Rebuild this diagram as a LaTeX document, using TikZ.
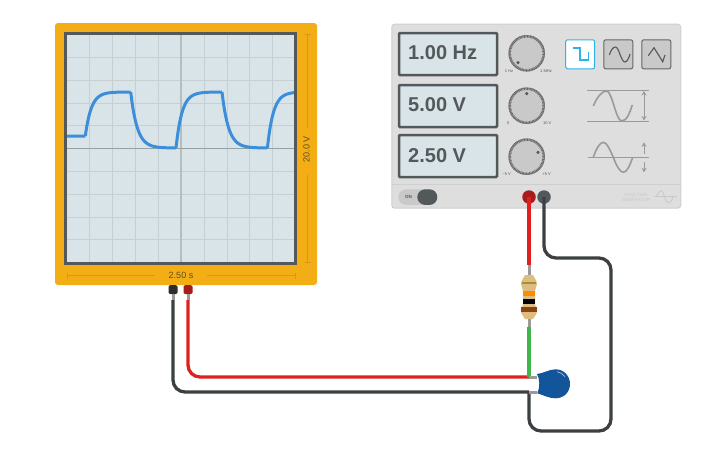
\documentclass[tikz,border=0pt]{standalone}
\usepackage{fontspec}
\setmainfont{Liberation Sans}
\usetikzlibrary{arrows.meta}
\definecolor{scopeorange}{HTML}{F2AE14}
\definecolor{dimorange}{HTML}{D29A18}
\definecolor{dimtext}{HTML}{5E4F22}
\definecolor{framegray}{HTML}{53585A}
\definecolor{lcdblue}{HTML}{D9E4E9}
\definecolor{gridgray}{HTML}{C6D0D3}
\definecolor{gridmid}{HTML}{B4BEBE}
\definecolor{gridaxis}{HTML}{96A1A1}
\definecolor{traceblue}{HTML}{3C8EDB}
\definecolor{panelgray}{HTML}{DEDEDE}
\definecolor{paneledge}{HTML}{CFCFCF}
\definecolor{knobgray}{HTML}{C9C9C9}
\definecolor{knobring}{HTML}{8E8E8E}
\definecolor{knobedge}{HTML}{666666}
\definecolor{iconblue}{HTML}{2FB2EA}
\definecolor{icongray}{HTML}{9A9A9A}
\definecolor{faintgray}{HTML}{C8C8C8}
\definecolor{wirered}{HTML}{E0201F}
\definecolor{wireblack}{HTML}{3C4042}
\definecolor{wiregreen}{HTML}{3FB54A}
\definecolor{leadgray}{HTML}{9A9A9A}
\definecolor{restan}{HTML}{DFBD7F}
\definecolor{capblue}{HTML}{13559B}
\definecolor{probedark}{HTML}{2E2E2E}
\definecolor{probered}{HTML}{A81C1C}
\definecolor{bandolive}{HTML}{A09040}
\definecolor{bandorange}{HTML}{FF8C00}
\definecolor{bandbrown}{HTML}{8B4513}
\tikzset{
    lcd/.style={draw=framegray, line width=2.5pt, rectangle, rounded corners=1pt, minimum width=98pt, minimum height=42pt, fill=lcdblue, inner sep=0pt},
    lcdtext/.style={font=\bfseries\fontsize{20}{20}\selectfont, text=framegray, anchor=west, inner sep=0pt},
    knob/.style={draw=knobedge, line width=2.5pt, circle, dash pattern=on 0.8pt off 0.7pt, preaction={draw=knobring, solid}, minimum size=34pt, fill=knobgray, inner sep=0pt},
    knobdot/.style={circle, fill=framegray, minimum size=3.5pt, inner sep=0pt},
    knobtext/.style={font=\fontsize{4}{4}\selectfont, text=framegray, inner sep=0pt},
    wavebtn/.style={draw=knobedge, line width=1pt, rectangle, rounded corners=2pt, minimum width=29pt, minimum height=29pt, fill=knobgray, inner sep=0pt},
    dimtxt/.style={font=\fontsize{9}{9}\selectfont, text=dimtext, inner sep=0pt},
    dimline/.style={draw=dimorange, line width=0.7pt},
    terminal/.style={circle, minimum size=13.5pt, inner sep=0pt},
    probe/.style={rectangle, rounded corners=1.5pt, minimum width=9pt, minimum height=9pt, inner sep=0pt},
    lead/.style={draw=leadgray, line width=3pt},
    wire/.style={line width=3.3pt, rounded corners=12pt},
    resband/.style={rectangle, inner sep=0pt, minimum height=4.5pt},
    gridline/.style={draw=gridgray, line width=1pt},
    icon/.style={line width=1.1pt, draw=framegray},
    sketch/.style={line width=1.6pt, draw=icongray},
    scaleline/.style={line width=1pt, draw=icongray},
    scalearrow/.style={line width=1pt, draw=icongray, -{Stealth[length=4.5pt,width=5pt]}}
}
\begin{document}
\begin{tikzpicture}[x=1pt, y=-1pt]
    \useasboundingbox (0,0) rectangle (725,453);

    \node[rectangle, rounded corners=3pt, minimum width=262pt, minimum height=262pt, fill=scopeorange, inner sep=0pt] (scope) at (186,154) {};
    \node[rectangle, minimum width=230pt, minimum height=230pt, fill=lcdblue, inner sep=0pt] (screen) at (180.5,148.5) {};
    \foreach \x in {89.3,112.3,135.3,158.3,204,227,249.6,272.5} {
        \draw[gridline] (\x,33) -- (\x,264);
    }
    \foreach \y in {57.3,80.3,103,125.7,171.3,194.3,217,239.7} {
        \draw[gridline] (65,\y) -- (296,\y);
    }
    \draw[draw=gridmid, line width=1.3pt] (181,33) -- (181,264);
    \draw[draw=gridaxis, line width=0.7pt] (65,148) -- (296,148);
    \draw[traceblue, line width=3pt, line join=round]
        (66.5,136) -- (85.3,136)
        plot[domain=0:45.4, samples=40] ({85.3+\x},{92+44*exp(-\x/6)})
        plot[domain=0:45.4, samples=40] ({130.7+\x},{148-56*exp(-\x/6.5)})
        plot[domain=0:45.9, samples=40] ({176+\x},{92+56*exp(-\x/6)})
        plot[domain=0:45.4, samples=40] ({222+\x},{148-56*exp(-\x/6.5)})
        plot[domain=0:27.5, samples=30] ({267.4+\x},{92+56*exp(-\x/6)});
    \node[rectangle, draw=framegray, line width=2.5pt, minimum width=230pt, minimum height=230pt, inner sep=0pt] (screenframe) at (180.5,148.5) {};

    \draw[dimline, |-|] (66.5,275.7) -- (295.7,275.7);
    \fill[scopeorange] (155,272) rectangle (206.5,279);
    \node[dimtxt] (timelabel) at (181,275) {2.50 s};
    \draw[dimline, |-|] (307.7,34) -- (307.7,263);
    \fill[scopeorange] (304,128) rectangle (311,175);
    \node[dimtxt, rotate=90] (voltlabel) at (306.5,149) {20.0 V};

    \node[rectangle, draw=paneledge, line width=1pt, rounded corners=3pt, minimum width=289pt, minimum height=184pt, fill=panelgray, inner sep=0pt] (fgen) at (536.3,116.2) {};
    \draw[draw=paneledge, line width=0.8pt] (392,184) -- (680.5,184);

    \node[lcd] (freqbox) at (448,54) {};
    \node[lcd] (amplbox) at (448,106) {};
    \node[lcd] (offsbox) at (448,156) {};
    \node[lcdtext] (freqtext) at (408,53) {1.00 Hz};
    \node[lcdtext] (ampltext) at (408,105) {5.00 V};
    \node[lcdtext] (offstext) at (408,156) {2.50 V};

    \node[knob] (freqknob) at (526.7,53.3) {};
    \node[knob] (amplknob) at (526.7,105.7) {};
    \node[knob] (offsknob) at (526.7,156.7) {};
    \node[knobdot] (freqdot) at (518,62.7) {};
    \node[knobdot] (ampldot) at (526.7,93.7) {};
    \node[knobdot] (offsdot) at (538,152.3) {};
    \node[knobtext] (freqmin) at (509,71) {1 Hz};
    \node[knobtext] (freqmax) at (546,71) {1 MHz};
    \node[knobtext] (amplmin) at (508.3,122.7) {0};
    \node[knobtext] (amplmax) at (547.3,122.7) {10 V};
    \node[knobtext] (offsmin) at (506.7,174.3) {−5 V};
    \node[knobtext] (offsmax) at (546.7,174.3) {+5 V};

    \node[wavebtn, draw=iconblue, fill=white!95!lcdblue] (squarebtn) at (580.2,54.3) {};
    \node[wavebtn] (sinebtn) at (618.3,54.3) {};
    \node[wavebtn] (trianglebtn) at (656.3,54.3) {};
    \draw[icon, draw=iconblue, line width=1.3pt] (572.7,48) -- (580,48) -- (580,60) -- (588.3,60) -- (588.3,52);
    \draw[icon] (609.3,55) .. controls (611,50) and (613,47) .. (615.5,47) .. controls (619,47) and (621,62) .. (625,62) .. controls (627,62) and (629,58) .. (630,54);
    \draw[icon] (648.3,55.7) -- (654,47.7) -- (662.7,61.7) -- (665,55);

    \draw[scaleline] (587.3,90.3) -- (649,90.3);
    \draw[scaleline] (587.3,121) -- (649,121);
    \draw[sketch] (593.3,106) .. controls (597,97) and (602,91) .. (606.7,91) .. controls (612,91) and (616,121) .. (621.7,121) .. controls (627,121) and (630,112) .. (632.3,105);
    \draw[scaleline, {Stealth[length=4.5pt,width=5pt]}-{Stealth[length=4.5pt,width=5pt]}] (644,91) -- (644,120.5);
    \draw[scaleline] (588.3,157.3) -- (649,157.3);
    \draw[sketch] (593.3,157.3) .. controls (596,149) and (600,142.3) .. (603.3,142.3) .. controls (607,142.3) and (610,150) .. (613.3,157.3) .. controls (616,165) and (620,172.3) .. (623.3,172.3) .. controls (627,172.3) and (630,165) .. (632.7,157.3);
    \draw[scalearrow] (644,153.5) -- (644,142.3);
    \draw[scalearrow] (644,161.7) -- (644,172.3);

    \node[font=\fontsize{4.5}{5}\selectfont, text=faintgray, align=center, inner sep=0pt] (brand) at (636,197) {FUNCTION\\GENERATOR};
    \draw[draw=faintgray, line width=0.8pt] (654,196.7) -- (676.7,196.7);
    \draw[draw=faintgray, line width=0.8pt] (656.5,196.7) .. controls (658,192) and (660,190.7) .. (661.7,190.7) .. controls (664,190.7) and (664.5,202.7) .. (668.5,202.7) .. controls (670.5,202.7) and (672,200) .. (673,196.7);

    \node[rectangle, rounded corners=7.8pt, minimum width=39pt, minimum height=15.6pt, fill=knobgray, inner sep=0pt] (switch) at (417.8,197.1) {};
    \node[rectangle, rounded corners=7.8pt, minimum width=20pt, minimum height=15.6pt, fill=framegray, inner sep=0pt] (switchknob) at (427.3,197.1) {};
    \node[font=\bfseries\fontsize{4.5}{5}\selectfont, text=framegray, inner sep=0pt] (switchtext) at (408.5,197.3) {ON};

    \node[terminal, fill=probered] (termred) at (529,197) {};
    \node[terminal, fill=framegray] (termblack) at (544,197) {};

    \node[probe, fill=probedark] (probeblack) at (173,289.5) {};
    \node[probe, fill=probered] (probered) at (188,289.5) {};
    \coordinate (pinblack) at (173,300);
    \coordinate (pinred) at (188,300);

    \coordinate (restop) at (529,265);
    \coordinate (resbot) at (529,327);
    \coordinate (captop) at (529,377);
    \coordinate (capbot) at (529,392);
    \coordinate (capleft) at (537,377);
    \coordinate (capleftb) at (537,392);

    \draw[wire, wirered] (pinred) |- (captop);
    \draw[wire, wireblack] (pinblack) |- (capbot);
    \draw[wire, wirered] (termred.center) -- (restop);
    \draw[wire, wiregreen] (resbot) -- (captop);
    \draw[wire, wireblack] (termblack.center) -- (544,258) -- (611,258) -- (611,431) -- (529,431) -- (capbot);
    \draw[lead] (probeblack.south) -- (pinblack);
    \draw[lead] (probered.south) -- (pinred);
    \draw[lead] (captop) -- (capleft);
    \draw[lead] (capbot) -- (capleftb);

    \node[rectangle, minimum width=16pt, minimum height=44pt, inner sep=0pt] (resistor) at (529,297) {};
    \draw[lead] (restop) -- (resistor.north);
    \draw[lead] (resistor.south) -- (resbot);
    \fill[restan] (525,275) -- (533,275) .. controls (534,278) and (537,280) .. (537,284) .. controls (537,287) and (535,288) .. (535,291) -- (535,304) .. controls (535,307) and (537,308) .. (537,311) .. controls (537,315) and (534,316) .. (533,319) -- (525,319) .. controls (524,316) and (521,315) .. (521,311) .. controls (521,308) and (523,307) .. (523,304) -- (523,291) .. controls (523,288) and (521,287) .. (521,284) .. controls (521,280) and (524,278) .. (525,275) -- cycle;
    \node[resband, fill=bandolive, minimum width=14pt, minimum height=2pt] (bandone) at (529,283) {};
    \node[resband, fill=bandorange, minimum width=12pt] (bandtwo) at (529,293.5) {};
    \node[resband, fill=black, minimum width=12pt] (bandthree) at (529,301.7) {};
    \node[resband, fill=bandbrown, minimum width=15.5pt] (bandfour) at (529,309.5) {};

    \fill[capblue] (537,374) .. controls (543,373.5) and (549,369.3) .. (555.5,369.3) .. controls (564,369.3) and (570,376) .. (570,384) .. controls (570,392) and (564,398.3) .. (555.5,398.3) .. controls (549,398.3) and (543,395) .. (537.3,393.3) .. controls (540,388) and (540,379) .. (537,374) -- cycle;
    \draw[draw=white!60!capblue, line width=0.7pt] (557,371.7) .. controls (560,372) and (563,374) .. (565,376.7);
\end{tikzpicture}
\end{document}
